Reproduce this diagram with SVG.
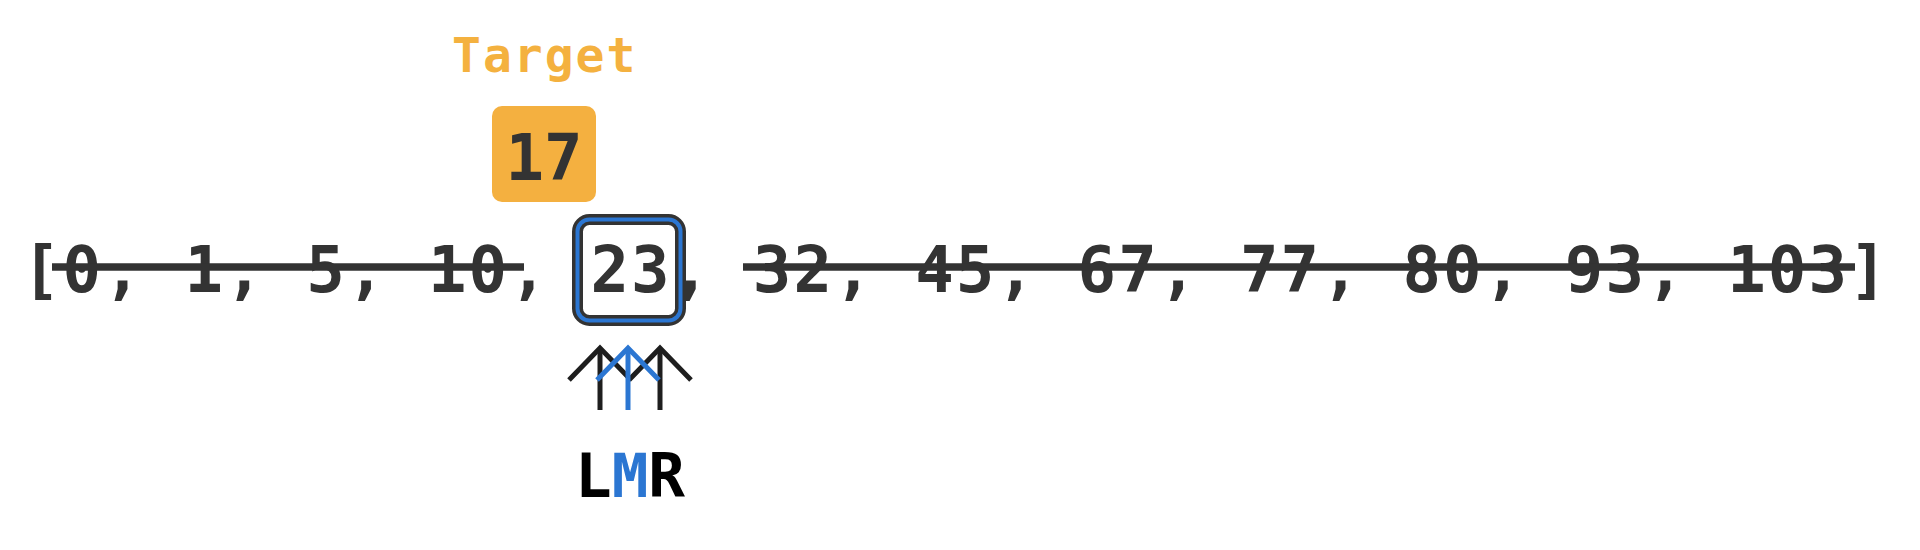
<svg xmlns="http://www.w3.org/2000/svg" width="1920" height="550" viewBox="0 0 1920 550">
  <style>
    .mono { font-family: "DejaVu Sans Mono", "Liberation Mono", monospace; font-weight: bold; }
    .arr { font-size: 64px; fill: #333333; letter-spacing: 2.07px; }
    .strike { stroke: #333333; stroke-width: 7.5; fill: none; }
    .ptr-dark { stroke: #1e1e1e; stroke-width: 5; fill: none; }
    .ptr-blue { stroke: #2b76d2; stroke-width: 5; fill: none; }
  </style>
  <rect x="0" y="0" width="1920" height="550" fill="#ffffff"/>

  <g id="target-label">
    <text class="mono" x="452" y="72" font-size="48" fill="#f4b13f" letter-spacing="2">Target</text>
  </g>

  <g id="target-box">
    <rect x="492" y="106" width="104" height="96" rx="10" ry="10" fill="#f4b040"/>
    <text class="mono" x="544" y="180" font-size="64" fill="#333333" text-anchor="middle">17</text>
  </g>

  <g id="array">
    <text class="mono arr" x="22" y="292">[0, 1, 5, 10,</text>
    <text class="mono arr" x="671.6" y="292">, 32, 45, 67, 77, 80, 93, 103]</text>
  </g>

  <g id="eliminated">
    <line class="strike" x1="52" y1="267" x2="524" y2="267"/>
    <line class="strike" x1="743" y1="267" x2="1855" y2="267"/>
  </g>

  <g id="mid-element">
    <rect x="577.5" y="219.5" width="103" height="101" rx="12" ry="12" fill="#ffffff" stroke="#333333" stroke-width="11"/>
    <rect x="577.5" y="219.5" width="103" height="101" rx="12" ry="12" fill="none" stroke="#2b76d2" stroke-width="4"/>
    <text class="mono arr" x="590.4" y="292">23</text>
  </g>

  <g id="connectors">
    <g id="ptr-L">
      <polyline class="ptr-dark" points="569,380 600,348 631,380"/>
      <line class="ptr-dark" x1="600" y1="348" x2="600" y2="410"/>
    </g>
    <g id="ptr-R">
      <polyline class="ptr-dark" points="629,380 660,348 691,380"/>
      <line class="ptr-dark" x1="660" y1="348" x2="660" y2="410"/>
    </g>
    <g id="ptr-M">
      <polyline class="ptr-blue" points="597,380 628,348 659,380"/>
      <line class="ptr-blue" x1="628" y1="348" x2="628" y2="410"/>
    </g>
  </g>

  <g id="pointer-labels">
    <text class="mono" x="630" y="497" font-size="61" text-anchor="middle"><tspan fill="#000000">L</tspan><tspan fill="#2b76d2">M</tspan><tspan fill="#000000">R</tspan></text>
  </g>
</svg>
